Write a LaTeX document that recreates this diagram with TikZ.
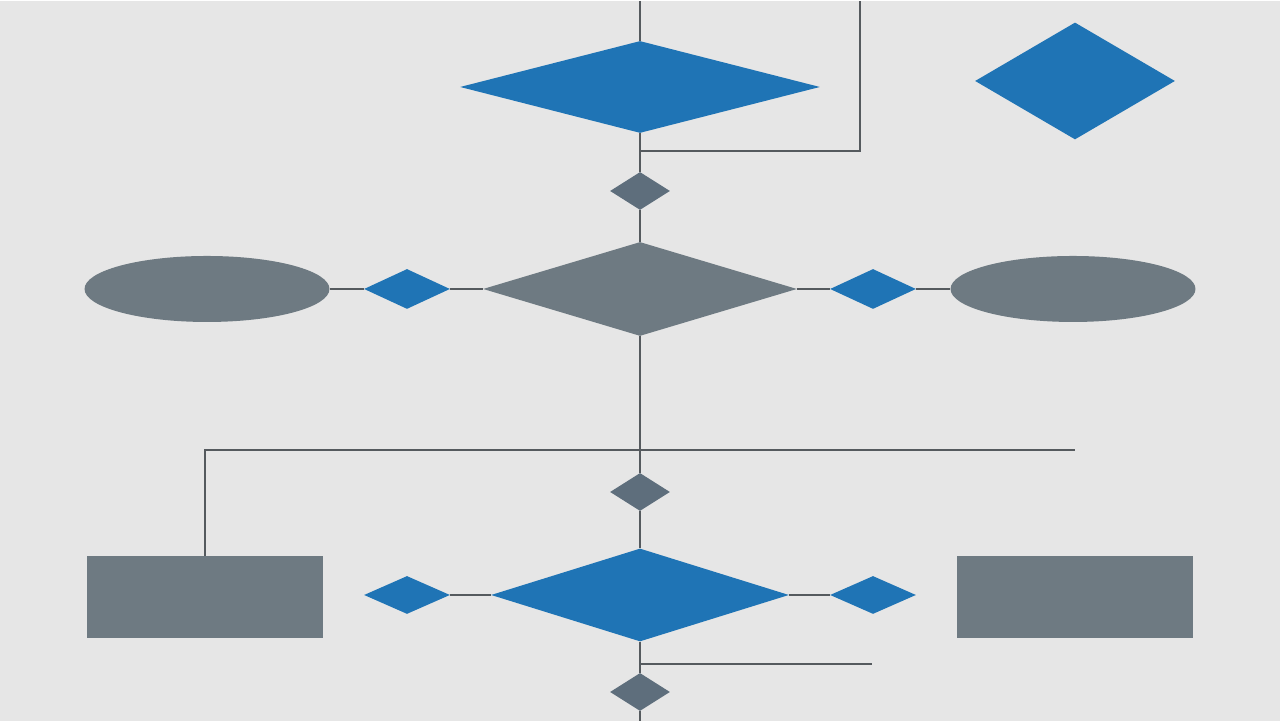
\documentclass[tikz,border=0pt]{standalone}
\usetikzlibrary{shapes.geometric}
\definecolor{bgc}{HTML}{E6E6E6}
\definecolor{blu}{HTML}{1F74B5}
\definecolor{gry}{HTML}{6E7A82}
\definecolor{dgry}{HTML}{5E6E7C}
\definecolor{lin}{HTML}{555A5E}
\tikzset{
  bd/.style={diamond,fill=blu,inner sep=0pt},
  gd/.style={diamond,fill=gry,inner sep=0pt},
  sd/.style={diamond,fill=dgry,inner sep=0pt,minimum width=1.2cm,minimum height=0.76cm},
  sb/.style={diamond,fill=blu,inner sep=0pt,minimum width=1.72cm,minimum height=0.8cm},
  ov/.style={ellipse,fill=gry,inner sep=0pt,minimum width=4.9cm,minimum height=1.32cm},
  bx/.style={rectangle,fill=gry,inner sep=0pt,minimum width=4.72cm,minimum height=1.64cm},
  wire/.style={draw=lin,line width=1.1pt}
}
\begin{document}
\begin{tikzpicture}[x=0.02cm,y=-0.02cm]
      \fill[bgc] (0,0) rectangle (1280,720);
      \path
        (640,86) node[bd,minimum width=7.2cm,minimum height=1.84cm] (top){}
        (1075,80) node[bd,minimum width=4cm,minimum height=2.34cm] (corner){}
        (640,190) node[sd] (s1){}
        (640,288) node[gd,minimum width=6.28cm,minimum height=1.88cm] (mid){}
        (207,288) node[ov] (ovl){}
        (1073,288) node[ov] (ovr){}
        (407,288) node[sb] (b1){}
        (873,288) node[sb] (b2){}
        (640,491) node[sd] (s2){}
        (640,594) node[bd,minimum width=5.96cm,minimum height=1.86cm] (low){}
        (205,596) node[bx] (rl){}
        (1075,596) node[bx] (rr){}
        (407,594) node[sb,minimum height=0.76cm] (b3){}
        (873,594) node[sb,minimum height=0.76cm] (b4){}
        (640,691) node[sd] (s3){};
      \coordinate (in) at (640,0);
      \coordinate (out) at (640,720);
      \coordinate (up) at (860,0);
      \coordinate (j1) at (640,150);
      \coordinate (j2) at (640,449);
      \coordinate (e2) at (1075,449);
      \coordinate (j3) at (640,663);
      \coordinate (e3) at (872,663);
      \begin{scope}[wire]
        \draw (in) to (top);
        \draw (top) to (s1);
        \draw (j1) -| (up);
        \draw (s1) to (mid);
        \draw (ovl) to (b1);
        \draw (b1) to (mid);
        \draw (mid) to (b2);
        \draw (b2) to (ovr);
        \draw (mid) to (s2);
        \draw (rl.north) |- (e2);
        \draw (s2) to (low);
        \draw (b3) to (low);
        \draw (low) to (b4);
        \draw (low) to (s3);
        \draw (j3) to (e3);
        \draw (s3) to (out);
      \end{scope}
    \end{tikzpicture}
\end{document}
